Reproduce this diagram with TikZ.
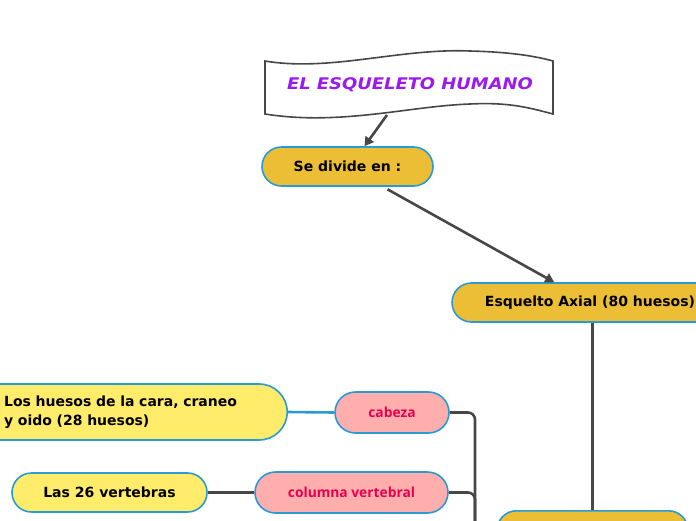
\documentclass[tikz,border=0pt]{standalone}
\usepackage{fontspec}
\setmainfont{DejaVu Sans}
\newfontfamily\pinkfont{Open Sans}
\usetikzlibrary{arrows.meta,calc}
\definecolor{gold}{HTML}{EBBE36}
\definecolor{bord}{HTML}{2A9AD6}
\definecolor{yel}{HTML}{FFEC6A}
\definecolor{pinkf}{HTML}{FFAEAE}
\definecolor{pinkt}{HTML}{E8004F}
\definecolor{conn}{HTML}{474747}
\definecolor{purp}{HTML}{9A1AF0}
\tikzset{
  pill/.style={draw=bord, line width=1.6pt, rounded corners=#1, inner sep=0pt, font=\fontsize{14}{18.5}\selectfont\bfseries},
  goldbox/.style={pill=19.5pt, fill=gold},
  yelbox/.style={pill=19.5pt, fill=yel},
  pinkbox/.style={pill=20.5pt, fill=pinkf, text=pinkt, font=\pinkfont\fontsize{13.8}{16}\selectfont\bfseries},
  conline/.style={draw=conn, line width=2.6pt},
  arr/.style={conline, -{Triangle[length=9pt,width=10pt]}},
}
\begin{document}
\begin{tikzpicture}[x=1pt,y=-1pt]
\useasboundingbox (0,0) rectangle (696,520);
\clip (0,0) rectangle (696,520);
% banner
\draw[conn, line width=1.6pt, fill=white]
  (265,61) .. controls (330,72) and (400,48) .. (470,51)
  .. controls (510,52) and (535,56) .. (553,61)
  -- (553,114)
  .. controls (530,108) and (510,102) .. (470,104)
  .. controls (410,106) and (340,126) .. (265,114) -- cycle;
\node (title) at (410,85) {\scalebox{1.12}[1]{\fontsize{16}{18}\selectfont\bfseries\itshape\color{purp}EL ESQUELETO HUMANO}};
\coordinate (bannerbot) at (387,115);
% nodes
\node[goldbox, minimum width=171pt, minimum height=39pt] (divide) at (347.5,166.5) {Se divide en :};
\node[goldbox, minimum width=284pt, minimum height=39pt] (axial) at (594,302.5) {\hspace*{-8pt}Esquelto Axial (80 huesos)};
\node[goldbox, minimum width=191pt, minimum height=39pt, anchor=north] (bottom) at (592.5,510) {};
\node[pinkbox, minimum width=114pt, minimum height=41pt] (cabeza) at (392,412.5) {cabeza};
\node[pinkbox, minimum width=193pt, minimum height=41pt] (columna) at (351.5,492.5) {columna vertebral};
\node[yelbox, pill=28pt, fill=yel, text width=240pt, inner xsep=43pt, minimum height=56pt, align=left, anchor=east] (cara) at (288,412) {Los huesos de la cara, craneo\\y oido (28 huesos)};
\node[yelbox, minimum width=195pt, minimum height=39pt] (vert) at (109.5,492.5) {Las 26 vertebras};
% connectors
\coordinate (divtarget) at ($(divide.north)+(17,0)$);
\draw[arr] (bannerbot) -- (divtarget);
\coordinate (divfrom) at ($(divide.south)+(40,2.5)$);
\coordinate (axtarget) at ($(axial.north west)+(103,0)$);
\draw[arr] (divfrom) -- (axtarget);
\draw[conline] (axial.south -| bottom.north) -- (bottom.north);
\coordinate (busend) at (475,540);
\draw[conline, rounded corners=7pt] (cabeza.east) -| (busend);
\draw[conline, rounded corners=7pt] (columna.east) -| (busend);
\draw[draw=bord, line width=2.6pt] (cara.east) -- (cabeza.west);
\draw[conline] (vert.east) -- (columna.west);
\end{tikzpicture}
\end{document}
